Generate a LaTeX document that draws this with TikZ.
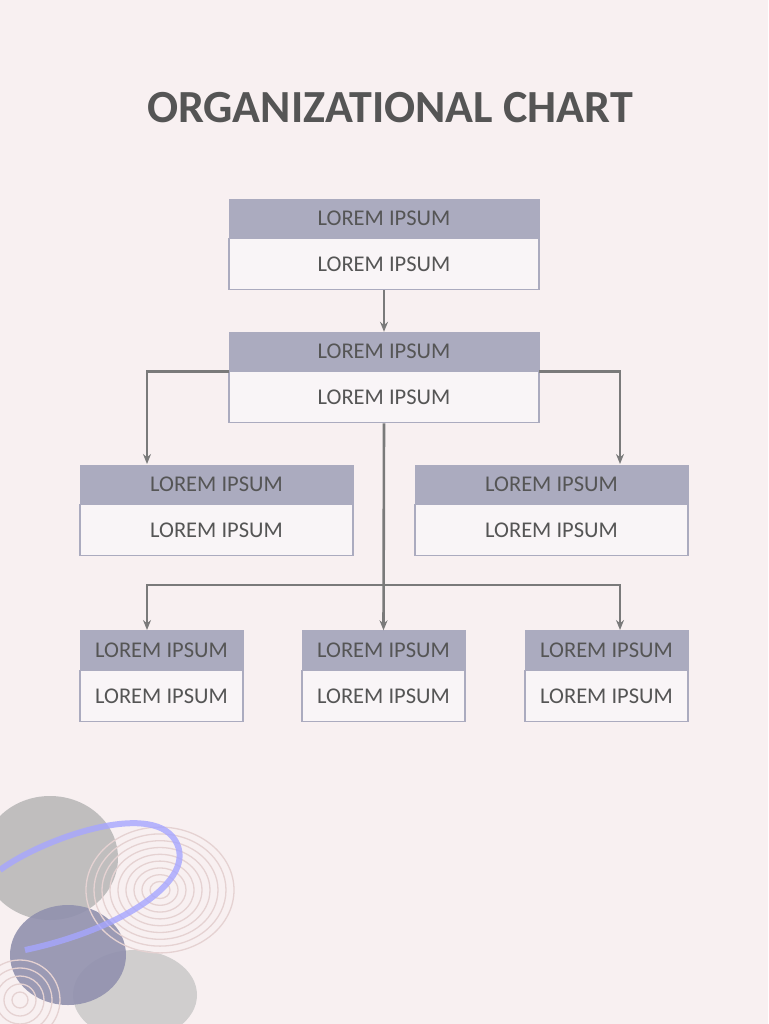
\documentclass[tikz,border=0pt]{standalone}
\usepackage{fontspec}
\setmainfont{Carlito}
\usetikzlibrary{arrows.meta}
\definecolor{bg}{HTML}{F8F0F1}
\definecolor{hd}{HTML}{ABABBF}
\definecolor{bd}{HTML}{F9F5F7}
\definecolor{tx}{HTML}{555555}
\definecolor{ln}{HTML}{7A7A7A}
\begin{document}
\begin{tikzpicture}[x=1pt,y=-1pt,
  hdr/.style={fill=hd,draw=hd,inner sep=0,font=\fontsize{22.5}{26}\selectfont,text=tx},
  bdy/.style={fill=bd,draw=hd,line width=1.2pt,inner sep=0,font=\fontsize{22.5}{26}\selectfont,text=tx},
  conn/.style={draw=ln,line width=2.6pt},
  arr/.style={conn,-{Stealth[length=10pt,width=8pt]}}]
\fill[bg] (0,0) rectangle (768,1024);
\useasboundingbox (0,0) rectangle (768,1024);
% decoration
\begin{scope}
\clip (0,780) rectangle (260,1024);
\fill[gray!60,opacity=0.8] (50,858) ellipse [x radius=68,y radius=62];
\fill[gray!45,opacity=0.8] (135,995) ellipse [x radius=62,y radius=45];
\fill[blue!15!gray!75,opacity=0.9] (68,955) ellipse [x radius=58,y radius=50];
\foreach \r in {10,18,...,80}{\draw[pink!60!gray!50,line width=1.3pt] (160,890) ellipse [x radius=\r,y radius=0.85*\r];}
\foreach \r in {8,16,...,40}{\draw[pink!60!gray!50,line width=1.3pt] (20,1000) circle (\r);}
\draw[blue!35!white,line width=6pt,opacity=0.8] (25,950) .. controls (120,930) and (200,880) .. (175,840) .. controls (150,800) and (40,840) .. (0,870);
\end{scope}
\node[font=\fontsize{46}{52}\bfseries\selectfont,text=tx] (title) at (390,108) {ORGANIZATIONAL CHART};
% boxes
\newcommand\orgbox[4]{%
  \node[hdr,minimum width=#3,minimum height=39] (#1h) at (#2,#4) {LOREM IPSUM};
  \node[bdy,minimum width=#3,minimum height=51,anchor=north] (#1b) at (#1h.south) {LOREM IPSUM};}
\orgbox{a}{384}{310}{218.5}
\orgbox{b}{384}{310}{351.5}
\orgbox{c}{216.5}{273}{484.5}
\orgbox{d}{551.5}{273}{484.5}
\orgbox{e}{161.5}{163}{650}
\orgbox{f}{383.5}{163}{650}
\orgbox{g}{606.5}{163}{650}
% connectors
\draw[arr] (ab.south) -- (bh.north);
\draw[arr] (bh.south west) -| (147,464);
\draw[arr] (bh.south east) -| (620,464);
\draw[arr] (bb.south) -- (fh.north);
\coordinate (j) at (384,585);
\draw[arr] (j) -| (147,630);
\draw[arr] (j) -| (620,630);
\end{tikzpicture}
\end{document}
